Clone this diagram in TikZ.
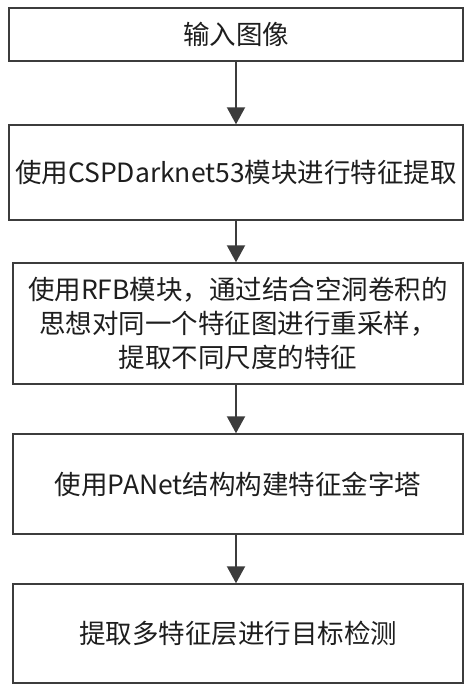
\documentclass[tikz,border=0pt]{standalone}
\usepackage{fontspec}
\setmainfont{Noto Sans CJK SC}
\usetikzlibrary{arrows.meta}
\definecolor{edge}{HTML}{3C3C3C}
\definecolor{txt}{HTML}{1E1E1E}
\tikzset{
  stepbox/.style={draw=edge, line width=1.4pt, fill=white, inner sep=0pt, align=center,
    text=txt, font=\fontsize{26.5pt}{34pt}\selectfont},
  flow/.style={draw=edge, line width=2pt, -{Triangle[width=18pt,length=17pt]}}
}
\begin{document}
\begin{tikzpicture}[x=1pt,y=-1pt]
\useasboundingbox (0,0) rectangle (474,695);
\node[stepbox, minimum width=454pt, minimum height=53pt] (b1) at (236,34.5) {输入图像};
\node[stepbox, minimum width=454pt, minimum height=95pt] (b2) at (236,172.5) {使用CSPDarknet53模块进行特征提取};
\node[stepbox, minimum width=450pt, minimum height=121pt] (b3) at (238,323.5) {使用RFB模块，通过结合空洞卷积的\\思想对同一个特征图进行重采样，\\提取不同尺度的特征};
\node[stepbox, minimum width=450pt, minimum height=100pt] (b4) at (238,484) {使用PANet结构构建特征金字塔};
\node[stepbox, minimum width=450pt, minimum height=99pt] (b5) at (238,633.5) {提取多特征层进行目标检测};
\draw[flow] (b1.south) -- (b2.north);
\draw[flow] (b2.south) -- (b2.south |- b3.north);
\draw[flow] (b3.south -| b2.south) -- (b2.south |- b4.north);
\draw[flow] (b4.south -| b2.south) -- (b2.south |- b5.north);
\end{tikzpicture}
\end{document}
